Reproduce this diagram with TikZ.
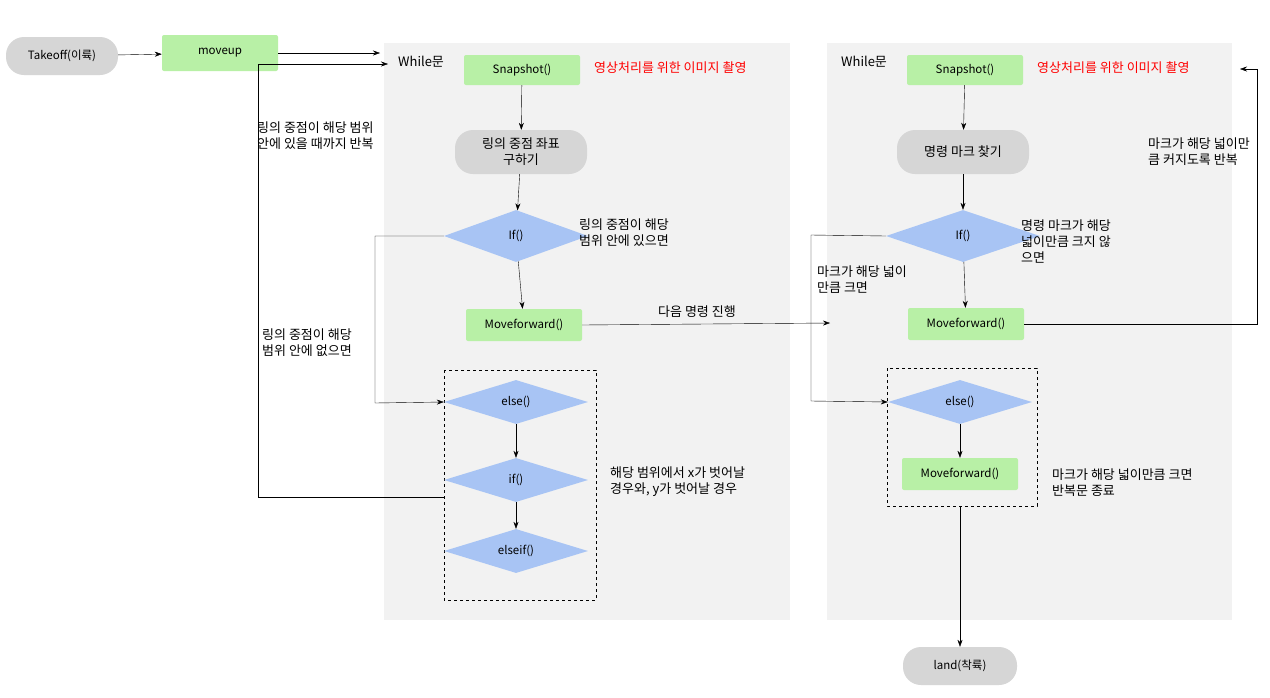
\documentclass[tikz,border=0pt]{standalone}
\usepackage{fontspec}
\setmainfont{Noto Sans CJK KR}
\usetikzlibrary{shapes.geometric,arrows.meta}
\definecolor{dblue}{RGB}{168,196,244}
\definecolor{lgreen}{RGB}{184,240,166}
\definecolor{lgray}{RGB}{214,214,214}
\begin{document}
\begin{tikzpicture}[x=1pt,y=-1pt,
  font=\fontsize{13}{16}\selectfont,
  pill/.style={rounded corners=18pt,fill=lgray,align=center,inner sep=0pt},
  grn/.style={fill=lgreen,rounded corners=2pt,inner sep=0pt,font=\fontsize{11.5}{13}\selectfont},
  dia/.style={diamond,aspect=2.8,fill=dblue,inner sep=0pt,font=\fontsize{11.5}{13}\selectfont},
  arr/.style={-{Stealth[length=7pt,width=5pt]},black},
  lbl/.style={align=left,anchor=west,inner sep=0pt}]
\useasboundingbox (0,0) rectangle (1270,697);
\fill[white] (0,0) rectangle (1270,697);
\fill[black!5] (384,43) rectangle (790,620);
\fill[black!5] (827,43) rectangle (1232,620);
% left column
\node[pill,minimum width=112pt,minimum height=38pt] (to) at (62,56) {\fontsize{11.5}{13}\selectfont Takeoff(이륙)};
\node[grn,minimum width=116pt,minimum height=36pt] (mu) at (220,53) {moveup};
\coordinate (w1) at (380,53);
\coordinate (w2) at (388,64);
\node[lbl] (wl) at (398,62) {While문};
\node[grn,minimum width=116pt,minimum height=30pt] (s1) at (522,70) {Snapshot()};
\node[lbl,text=red] (r1) at (594,68) {영상처리를 위한 이미지 촬영};
\node[pill,minimum width=132pt,minimum height=44pt] (p1) at (521,152) {링의 중점 좌표\\구하기};
\node[dia,minimum width=144pt,minimum height=52pt] (if1) at (516,236) {If()};
\node[lbl] (t1) at (579,233) {링의 중점이 해당\\범위 안에 있으면};
\node[grn,minimum width=116pt,minimum height=32pt] (mf1) at (524,325) {Moveforward()};
\draw[dashed] (444,370) rectangle (596,600);
\node[dia,minimum width=144pt,minimum height=44pt] (e1) at (516,402) {else()};
\node[dia,minimum width=144pt,minimum height=44pt] (i2) at (516,480) {if()};
\node[dia,minimum width=144pt,minimum height=44pt] (ei) at (516,551) {elseif()};
\node[lbl] (t2) at (257,136) {링의 중점이 해당 범위\\안에 있을 때까지 반복};
\node[lbl] (t3) at (262,343) {링의 중점이 해당\\범위 안에 없으면};
\node[lbl] (t4) at (610,482) {해당 범위에서 x가 벗어날\\경우와, y가 벗어날 경우};
\node[lbl] (t5) at (658,312) {다음 명령 진행};
\draw[arr] (to) -- (mu);
\draw[arr] (mu.east |- w1) -- (w1);
\draw[arr] (444,497) -- (258,497) -- (258,64) -- (w2);
\draw[arr] (s1) -- (p1);
\draw[arr] (p1) -- (if1);
\draw[arr] (if1) -- (mf1);
\draw[arr] (if1.west) -- (375,236) -- (375,403) -- (e1.west);
\draw[arr] (e1) -- (i2);
\draw[arr] (i2) -- (ei);
\coordinate (w3) at (830,323);
\draw[arr] (mf1.east) -- (w3);
% right column
\node[lbl] (wr) at (841,62) {While문};
\node[grn,minimum width=116pt,minimum height=30pt] (s2) at (965,70) {Snapshot()};
\node[lbl,text=red] (r2) at (1037,68) {영상처리를 위한 이미지 촬영};
\node[pill,minimum width=132pt,minimum height=44pt] (p2) at (963,152) {명령 마크 찾기};
\node[dia,minimum width=154pt,minimum height=52pt] (if3) at (963,236) {If()};
\node[lbl] (t6) at (1021,241) {명령 마크가 해당\\넓이만큼 크지 않\\으면};
\node[grn,minimum width=116pt,minimum height=32pt] (mf2) at (966,324) {Moveforward()};
\node[lbl] (t7) at (1148,152) {마크가 해당 넓이만\\큼 커지도록 반복};
\node[lbl] (t8) at (817,280) {마크가 해당 넓이\\만큼 크면};
\draw[dashed] (887,368) rectangle (1037,506);
\node[dia,minimum width=144pt,minimum height=44pt] (e2) at (960,402) {else()};
\node[grn,minimum width=116pt,minimum height=32pt] (mf3) at (960,474) {Moveforward()};
\node[lbl] (t9) at (1052,483) {마크가 해당 넓이만큼 크면\\반복문 종료};
\node[pill,minimum width=114pt,minimum height=38pt] (ld) at (960,666) {\fontsize{11.5}{13}\selectfont land(착륙)};
\coordinate (w4) at (1240,69);
\coordinate (bx) at (960,506);
\draw[arr] (s2) -- (p2);
\draw[arr] (p2) -- (if3);
\draw[arr] (if3) -- (mf2);
\draw[arr] (mf2.east) -- (1257,324) -- (1257,69) -- (w4);
\draw[arr] (if3.west) -- (811,235) -- (811,401) -- (e2.west);
\draw[arr] (e2) -- (mf3);
\draw[arr] (bx) -- (ld);
\end{tikzpicture}
\end{document}
